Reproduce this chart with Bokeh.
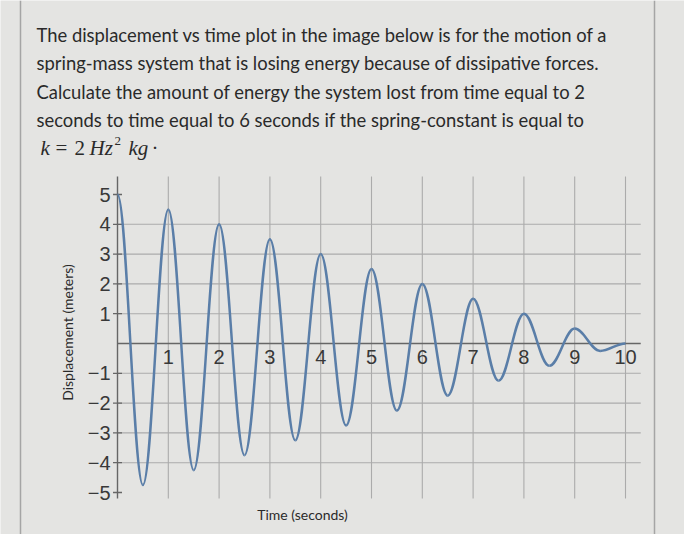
import numpy as np
from bokeh.plotting import figure
from bokeh.models import Range1d, Label, Span
from bokeh.core.properties import value
from bokeh.embed import file_html
from bokeh.resources import INLINE

# ---- data ----
# times of successive extremes (peaks / troughs), seconds
ext_t = [0, 0.5, 1, 1.5, 2, 2.5, 3, 3.5, 4, 4.5, 5,
         5.5, 6, 6.5, 7, 7.5, 8, 8.5, 9, 9.5, 10]
# displacement at those extremes, meters
ext_y = [5, -4.75, 4.5, -4.25, 4, -3.75, 3.5, -3.25, 3, -2.75, 2.5,
         -2.25, 2, -1.75, 1.5, -1.25, 1, -0.75, 0.5, -0.25, 0]
x_ticks = [1, 2, 3, 4, 5, 6, 7, 8, 9, 10]
y_ticks = [5, 4, 3, 2, 1, -1, -2, -3, -4, -5]
grid_y = [4, 3, 2, 1, -1, -2, -3, -4]
question = [
    "The displacement vs time plot in the image below is for the motion of a",
    "spring-mass system that is losing energy because of dissipative forces.",
    "Calculate the amount of energy the system lost from time equal to 2",
    "seconds to time equal to 6 seconds if the spring-constant is equal to",
]

W, H = 684, 534
PX_X, X0 = 50.8, 117     # pixels per second, canvas x of t=0
PX_Y, Y0 = 29.8, 343     # pixels per meter, canvas y (from top) of 0 m

p = figure(width=W, height=H,
           x_range=Range1d(-X0 / PX_X, (W - X0) / PX_X),
           y_range=Range1d(-(H - Y0) / PX_Y, Y0 / PX_Y),
           x_axis_type=None, y_axis_type=None,
           output_backend="svg", toolbar_location=None,
           min_border=0, min_border_left=0, min_border_right=0,
           min_border_top=0, min_border_bottom=0)
p.outline_line_color = None
p.background_fill_color = "#e4e4e2"
p.border_fill_color = "#e4e4e2"

grid_col = "#ababab"
axis_col = "#666666"
txt_col = "#2a2a2a"

# page panel borders (from the photographed page)
p.add_layout(Span(location=20, location_units="screen", dimension="height",
                  line_color="#a5a5a5", line_width=1.5))
p.add_layout(Span(location=654, location_units="screen", dimension="height",
                  line_color="#a5a5a5", line_width=1.5))

x_end = max(x_ticks) + 0.3
y_top = max(y_ticks) + 0.6
y_bot = min(y_ticks) - 0.2

# grid
p.segment(x0=0, y0=grid_y, x1=x_end, y1=grid_y, line_color=grid_col, line_width=1.1)
p.segment(x0=x_ticks, y0=y_bot, x1=x_ticks, y1=y_top, line_color=grid_col, line_width=1.1)

# axes through the origin
p.segment(x0=[0], y0=[y_bot], x1=[0], y1=[y_top], line_color=axis_col, line_width=1.4)
p.segment(x0=[0], y0=[0], x1=[x_end], y1=[0], line_color=axis_col, line_width=1.4)
p.scatter(x=0, y=y_ticks, marker="dash", size=9, line_color=axis_col, line_width=1.3)

# tick labels
def fmt(v):
    return str(v) if v >= 0 else "\u2212" + str(-v)

p.text(x=0, y=y_ticks, text=[fmt(v) for v in y_ticks], x_offset=-7,
       text_align="right", text_baseline="middle",
       text_font=value("Liberation Sans"), text_font_size="20px", text_color="#383838")
p.text(x=x_ticks, y=0, text=[fmt(v) for v in x_ticks], y_offset=6,
       text_align="center", text_baseline="top",
       text_font=value("Liberation Sans"), text_font_size="20px", text_color="#383838")

# damped oscillation: smooth cubic pieces between the read extremes
t = np.array(ext_t, dtype=float)
y = np.array(ext_y, dtype=float)
dt = t[1:] - t[:-1]
h = 1 - 2 / np.pi
p.bezier(x0=t[:-1], y0=y[:-1], x1=t[1:], y1=y[1:],
         cx0=t[:-1] + h * dt, cy0=y[:-1], cx1=t[1:] - h * dt, cy1=y[1:],
         line_color="#5a7ea8", line_width=2.5)

# axis titles
p.add_layout(Label(x=67, y=H - 332, x_units="screen", y_units="screen",
                   text="Displacement (meters)", angle=np.pi / 2,
                   text_align="center", text_baseline="middle",
                   text_font="Lato", text_font_size="14px", text_color=txt_col))
p.add_layout(Label(x=302, y=H - 514, x_units="screen", y_units="screen",
                   text="Time (seconds)",
                   text_align="center", text_baseline="middle",
                   text_font="Lato", text_font_size="14px", text_color=txt_col))

# question text
for i, line in enumerate(question):
    p.add_layout(Label(x=36, y=H - (34 + i * 28.5), x_units="screen", y_units="screen",
                       text=line, text_align="left", text_baseline="middle",
                       text_font="Lato", text_font_size="18.4px", text_color=txt_col))

# formula line: k = 2 Hz^2 kg.
ym = H - 147
pieces = [
    (40, ym, "k", "italic", "21px"),
    (55, ym, "=", "normal", "21px"),
    (74, ym, "2", "normal", "21px"),
    (89, ym, "Hz", "italic", "21px"),
    (114, ym + 7, "2", "normal", "13px"),
    (128, ym, "kg", "italic", "21px"),
    (151, ym, "\u00b7", "normal", "21px"),
]
for px, py, s, style, size in pieces:
    p.add_layout(Label(x=px, y=py, x_units="screen", y_units="screen",
                       text=s, text_align="left", text_baseline="middle",
                       text_font="Liberation Serif", text_font_style=style,
                       text_font_size=size, text_color=txt_col))

open("out.html", "w").write(file_html(p, INLINE))
